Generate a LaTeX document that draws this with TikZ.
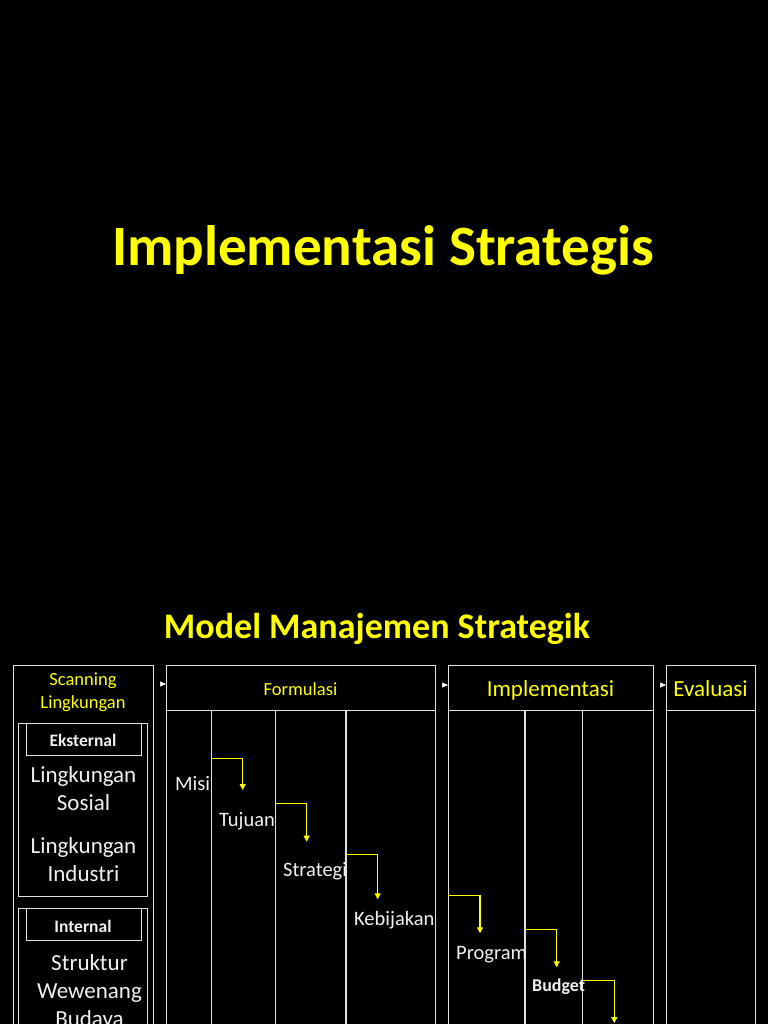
\documentclass[tikz,border=0pt]{standalone}
\usepackage{fontspec}
\setmainfont{Carlito}
\usetikzlibrary{arrows.meta}
\definecolor{ylw}{RGB}{255,255,0}
\definecolor{ln}{RGB}{225,225,225}
\definecolor{txt}{RGB}{240,240,240}
\tikzset{
  box/.style={draw=ln, line width=1.2pt, inner sep=0pt, anchor=north west},
  col/.style={draw=ln, line width=1.2pt},
  ytxt/.style={text=ylw, inner sep=0pt},
  wtxt/.style={text=txt, inner sep=0pt},
  yarrow/.style={draw=ylw, line width=1.3pt, -{Triangle[length=6pt,width=6pt]}},
  harrow/.style={draw=black, line width=0.5pt, -{Triangle[length=6pt,width=5pt,color=white]}},
}
\begin{document}
\begin{tikzpicture}[x=1pt,y=-1pt]
\fill[black] (0,0) rectangle (768,1024);
\useasboundingbox (0,0) rectangle (768,1024);
\clip (0,0) rectangle (768,1024);

% titles
\node[ytxt, font=\fontsize{57}{68}\selectfont\bfseries, anchor=base] (title) at (383,265) {Implementasi Strategis};
\node[ytxt, font=\fontsize{36}{43}\selectfont\bfseries, anchor=base] (sub) at (377,638) {Model Manajemen Strategik};

% scanning column (multi-line nodes: base anchor = last line's baseline)
\node[box, minimum width=140pt, minimum height=380pt] (scan) at (13,665) {};
\node[ytxt, font=\fontsize{18.5}{23}\selectfont, align=center, anchor=base] (scantxt) at (83,708.7) {Scanning\\Lingkungan};

\node[box, minimum width=129pt, minimum height=173pt] (eks) at (18,722.5) {};
\node[box, minimum width=115.5pt, minimum height=32.5pt] (ekslbl) at (25.5,722.5) {};
\node[wtxt, font=\fontsize{17.5}{21}\selectfont\bfseries, anchor=base] (ekstxt) at (83,746.7) {Eksternal};
\node[wtxt, font=\fontsize{23}{28}\selectfont, align=center, anchor=base] (sosial) at (83.5,810.7) {Lingkungan\\Sosial};
\node[wtxt, font=\fontsize{23}{28}\selectfont, align=center, anchor=base] (industri) at (83.5,881.7) {Lingkungan\\Industri};

\node[box, minimum width=129pt, minimum height=140pt] (int) at (18,908) {};
\node[box, minimum width=115.5pt, minimum height=32pt] (intlbl) at (25.5,908) {};
\node[wtxt, font=\fontsize{17.5}{21}\selectfont\bfseries, anchor=base] (inttxt) at (83,932.7) {Internal};
\node[wtxt, font=\fontsize{23}{28.2}\selectfont, align=center, anchor=base] (struktur) at (89.5,1026.4) {Struktur\\Wewenang\\Budaya};

% formulasi
\node[box, minimum width=269pt, minimum height=45pt] (fhead) at (166,665) {};
\node[ytxt, font=\fontsize{18.5}{22}\selectfont, anchor=base] at (300.5,695) {Formulasi};
\node[box, minimum width=269pt, minimum height=330pt] (fbody) at (166,710) {};
\draw[col] (211.7,710) -- (211.7,1040);
\draw[col] (275.7,710) -- (275.7,1040);
\draw[col] (346,710) -- (346,1040);

% implementasi
\node[box, minimum width=205pt, minimum height=45pt] (ihead) at (448,665) {};
\node[ytxt, font=\fontsize{23}{28}\selectfont, anchor=base] at (550.5,696.7) {Implementasi};
\node[box, minimum width=205pt, minimum height=330pt] (ibody) at (448,710) {};
\draw[col] (525,710) -- (525,1040);
\draw[col] (582.7,710) -- (582.7,1040);

% evaluasi
\node[box, minimum width=89pt, minimum height=45pt] (ehead) at (666,665) {};
\node[ytxt, font=\fontsize{23}{28}\selectfont, anchor=base] at (710.5,696.7) {Evaluasi};
\node[box, minimum width=89pt, minimum height=330pt] (ebody) at (666,710) {};

% header arrows
\draw[harrow] (scan.east |- 0,684) -- (fhead.west |- 0,684);
\draw[harrow] (fhead.east |- 0,685) -- (ihead.west |- 0,685);
\draw[harrow] (ihead.east |- 0,685) -- (ehead.west |- 0,685);

% staircase labels
\node[wtxt, font=\fontsize{20.5}{24}\selectfont, anchor=base west] (misi) at (175,790) {Misi};
\node[wtxt, font=\fontsize{20.5}{24}\selectfont, anchor=base west] (tujuan) at (219,826) {Tujuan};
\node[wtxt, font=\fontsize{20.5}{24}\selectfont, anchor=base west] (strategi) at (283,876.7) {Strategi};
\node[wtxt, font=\fontsize{20.5}{24}\selectfont, anchor=base west] (kebijakan) at (354,925) {Kebijakan};
\node[wtxt, font=\fontsize{20.5}{24}\selectfont, anchor=base west] (program) at (456,959) {Program};
\node[wtxt, font=\fontsize{18}{22}\selectfont\bfseries, anchor=base west] (budget) at (532,991.7) {Budget};

\coordinate (t1) at (242.7,790);
\coordinate (t2) at (306.7,841.7);
\coordinate (t3) at (377.7,899.3);
\coordinate (t4) at (480,933.3);
\coordinate (t5) at (556.7,967.3);
\coordinate (t6) at (614.3,1023);

\draw[yarrow] (211.7,758.3) -| (t1);
\draw[yarrow] (275.7,803.7) -| (t2);
\draw[yarrow] (346,854.3) -| (t3);
\draw[yarrow] (448,895.7) -| (t4);
\draw[yarrow] (525,929.3) -| (t5);
\draw[yarrow] (582.7,980.7) -| (t6);
\end{tikzpicture}
\end{document}
